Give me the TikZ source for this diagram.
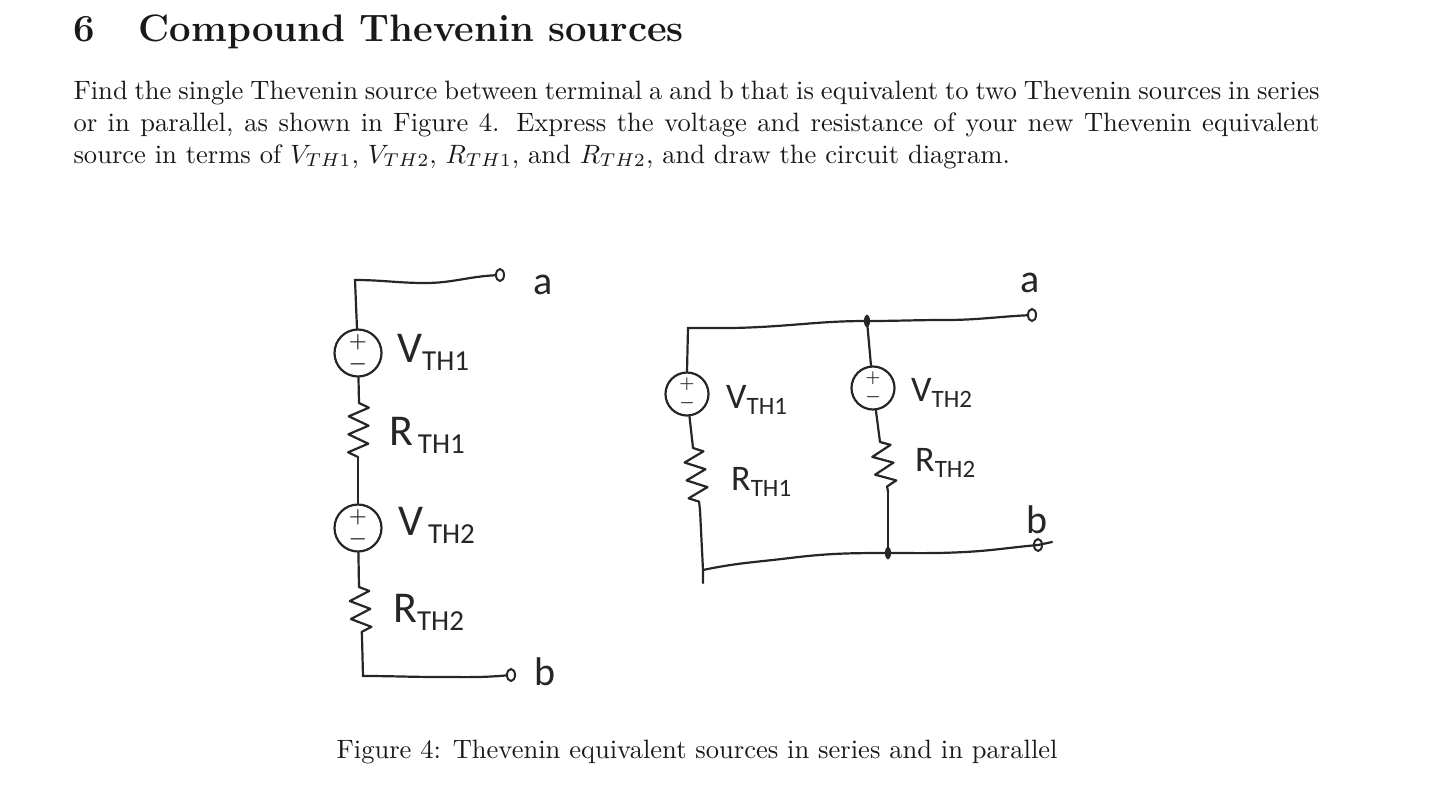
\documentclass[tikz,border=0pt]{standalone}
\usepackage{fontspec}
\usetikzlibrary{shapes.geometric,decorations.pathmorphing}
\newfontfamily\handfont{Carlito}
\newcommand{\handbig}[2]{{\handfont\fontsize{44}{44}\selectfont #1\fontsize{29}{29}\selectfont\raisebox{-8pt}{#2}}}
\newcommand{\handsmall}[2]{{\handfont\fontsize{36}{36}\selectfont #1\fontsize{25}{25}\selectfont\raisebox{-6pt}{#2}}}
\tikzset{
	wire/.style={line width=2.2pt,color=black!85,line cap=round},
	res/.style={wire,line join=round,decorate,decoration={zigzag,segment length=18pt,amplitude=10pt}},
	srcbig/.style={circle,draw,line width=2.2pt,color=black!85,minimum size=47pt,inner sep=0pt,align=center,font=\fontsize{20}{22}\selectfont\boldmath},
	srcsmall/.style={circle,draw,line width=2.2pt,color=black!85,minimum size=43pt,inner sep=0pt,align=center,font=\fontsize{17}{19}\selectfont\boldmath},
	term/.style={ellipse,draw,line width=2pt,color=black!85,minimum width=8pt,minimum height=12pt,inner sep=0pt},
	dot/.style={ellipse,fill=black!85,minimum width=6pt,minimum height=13pt,inner sep=0pt},
	hand/.style={inner sep=0pt,anchor=west,color=black!85},
	letter/.style={inner sep=0pt,color=black!85,font=\handfont\fontsize{40}{40}\selectfont},
	bodyline/.style={scale=2.655,anchor=base west,inner sep=0pt,color=black!90}
}
\begin{document}
\begin{tikzpicture}[x=1pt,y=-1pt]
	\useasboundingbox (0,0) rectangle (1446,788);
	% heading and text
	\node[bodyline] (secnum) at (73,41) {\Large\bfseries 6};
	\node[bodyline] (sectitle) at (138,41) {\Large\bfseries Compound Thevenin sources};
	\node[bodyline] (lineone) at (73,99) {\makebox[469.3pt][s]{Find the single Thevenin source between terminal a and b that is equivalent to two Thevenin sources in series}};
	\node[bodyline] (linetwo) at (73,131) {\makebox[469.3pt][s]{or in parallel, as shown in Figure 4.  Express the voltage and resistance of your new Thevenin equivalent}};
	\node[bodyline] (linethree) at (73,163) {source in terms of $V_{TH1}$, $V_{TH2}$, $R_{TH1}$, and $R_{TH2}$, and draw the circuit diagram.};
	\node[bodyline] (caption) at (336,758) {Figure 4: Thevenin equivalent sources in series and in parallel};
	% series circuit
	\coordinate (cornerA) at (355,280);
	\coordinate (wobA) at (425,283);
	\node[term] (termA) at (500,275) {};
	\node[srcbig] (srcA) at (358,353) {$+$\\$-$};
	\coordinate (resAt) at (359,403);
	\coordinate (resAb) at (358,458);
	\node[srcbig] (srcB) at (358,528) {$+$\\$-$};
	\coordinate (resBt) at (359,587);
	\coordinate (resBb) at (362,637);
	\coordinate (cornerB) at (363,676);
	\coordinate (wobB) at (440,677);
	\node[term] (termB) at (511,675) {};
	\draw[wire] (termA) to[out=183,in=0] (wobA) to[out=180,in=0] (cornerA) -- (srcA);
	\draw[wire] (srcA) -- (resAt);
	\draw[res] (resAt) -- (resAb);
	\draw[wire] (resAb) -- (srcB);
	\draw[wire] (srcB) -- (resBt);
	\draw[res] (resBt) -- (resBb);
	\draw[wire] (resBb) -- (cornerB) to[out=0,in=180] (wobB) to[out=0,in=185] (termB);
	\node[letter] (labA) at (543,285) {a};
	\node[letter] (labB) at (545,672) {b};
	\node[hand] (vthA) at (397,352) {\handbig{V}{TH1}};
	\node[hand] (rthA) at (389,435) {\handbig{R}{\,TH1}};
	\node[hand] (vthB) at (398,525) {\handbig{V}{\,TH2}};
	\node[hand] (rthB) at (393,612) {\handbig{R}{TH2}};
	% parallel circuit
	\coordinate (cornerC) at (688,328);
	\node[dot] (topjoin) at (867,321) {};
	\coordinate (wobC) at (760,327);
	\coordinate (wobD) at (945,320);
	\node[term] (termC) at (1032,315) {};
	\node[srcsmall] (srcC) at (687,394) {$+$\\$-$};
	\coordinate (resCt) at (693,448);
	\coordinate (resCb) at (700,510);
	\coordinate (cornerD) at (703,570);
	\coordinate (stubD) at (703,583);
	\node[srcsmall] (srcD) at (873,388) {$+$\\$-$};
	\coordinate (resDt) at (880,442);
	\coordinate (resDb) at (888,492);
	\node[dot] (botjoin) at (888,553) {};
	\coordinate (wobE) at (790,558);
	\coordinate (wobF) at (965,552);
	\node[term] (termD) at (1038,545) {};
	\coordinate (tailD) at (1052,542);
	\draw[wire] (srcC.north) -- (cornerC) to[out=0,in=183] (wobC) to[out=3,in=180] (topjoin.center);
	\draw[wire] (topjoin.center) to[out=0,in=180] (wobD) to[out=0,in=183] (termC);
	\draw[wire] (topjoin.center) -- (srcD);
	\draw[wire] (srcC) -- (resCt);
	\draw[res] (resCt) -- (resCb);
	\draw[wire] (srcD) -- (resDt);
	\draw[res] (resDt) -- (resDb);
	\draw[wire] (resDb) -- (botjoin.center);
	\draw[wire] (resCb) -- (cornerD) -- (stubD);
	\draw[wire] (cornerD) to[out=12,in=187] (wobE) to[out=7,in=180] (botjoin.center);
	\draw[wire] (botjoin.center) to[out=0,in=183] (wobF) to[out=3,in=185] (termD.center) -- (tailD);
	\node[letter] (labC) at (1030,283) {a};
	\node[letter] (labD) at (1037,520) {b};
	\node[hand] (vthC) at (726,400) {\handsmall{V}{TH1}};
	\node[hand] (vthD) at (911,393) {\handsmall{V}{TH2}};
	\node[hand] (rthC) at (731,482) {\handsmall{R}{TH1}};
	\node[hand] (rthD) at (915,463) {\handsmall{R}{TH2}};
\end{tikzpicture}
\end{document}
